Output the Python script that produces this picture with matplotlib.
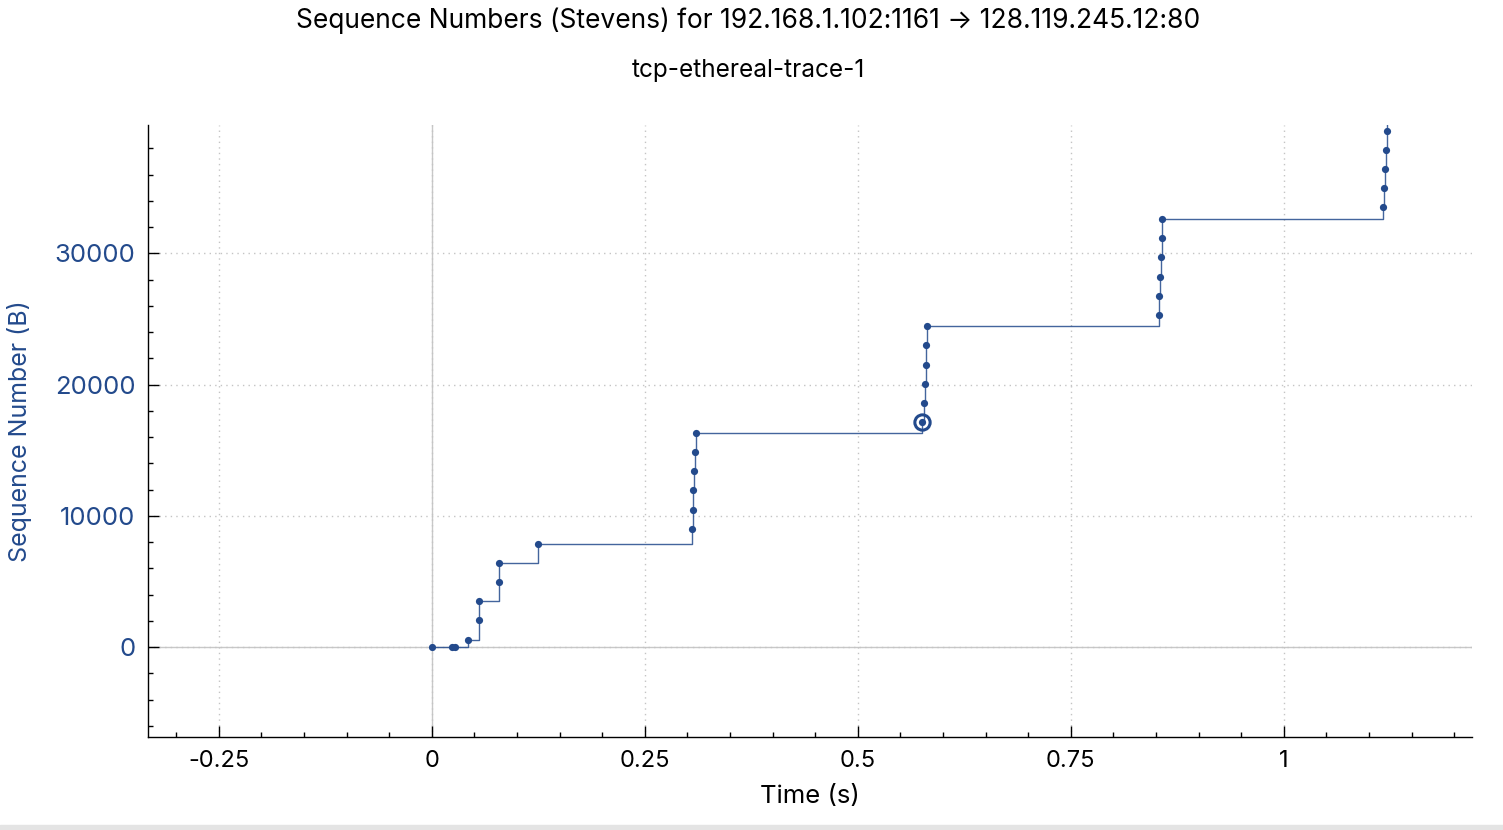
import matplotlib.pyplot as plt
from matplotlib.ticker import MultipleLocator, FormatStrFormatter
from matplotlib.patches import Rectangle

plt.rcParams['font.family'] = ['Inter', 'DejaVu Sans']

# segment send times (s) and relative sequence numbers (bytes)
times = [0, 0.0239, 0.0278, 0.0427, 0.0552, 0.0556, 0.0786, 0.0790, 0.1248,
         0.3055, 0.3063, 0.3071, 0.3083, 0.3095, 0.3103,
         0.5759, 0.5775, 0.5786, 0.5798, 0.5806, 0.5818,
         0.8533, 0.8541, 0.8548, 0.8556, 0.8568, 0.8576,
         1.1166, 1.1177, 1.1189, 1.1201, 1.1209, 1.1215]
seqs = [0, 1, 1, 566, 2026, 3486, 4946, 6406, 7866,
        9013, 10473, 11933, 13393, 14853, 16313,
        17150, 18610, 20070, 21530, 22990, 24450,
        25310, 26770, 28230, 29690, 31150, 32610,
        33520, 34980, 36440, 37900, 39360, 40820]
selected_t = 0.5759
selected_seq = 17150

blue = '#234a8c'

fig = plt.figure(figsize=(15.03, 8.30), dpi=100)
ax = fig.add_axes([0.0985, 0.112, 0.8809, 0.737])

ax.axhline(0, color='#c8c8c8', lw=1, zorder=1)
ax.axvline(0, color='#c8c8c8', lw=1, zorder=1)
ax.grid(True, which='major', color='#c4c4c4', ls=(0, (1, 3)), lw=1)

ax.plot(times, seqs, drawstyle='steps-post', color=blue, lw=1, alpha=0.85, zorder=3)
ax.plot(times, seqs, 'o', color=blue, ms=5.2, mec='none', zorder=4)
ax.plot([selected_t], [selected_seq], 'o', ms=11, mfc='none', mec=blue, mew=2.2, zorder=5)

ax.set_xlim(-0.333, 1.221)
ax.set_ylim(-6855, 39756)

ax.xaxis.set_major_locator(MultipleLocator(0.25))
ax.xaxis.set_minor_locator(MultipleLocator(0.05))
ax.xaxis.set_major_formatter(FormatStrFormatter('%g'))
ax.yaxis.set_major_locator(MultipleLocator(10000))
ax.yaxis.set_minor_locator(MultipleLocator(2000))

ax.tick_params(which='major', direction='in', length=8, width=1, labelsize=17, pad=9)
ax.tick_params(which='minor', direction='in', length=3.3, width=1)
ax.tick_params(axis='y', labelcolor=blue, labelsize=18.5, pad=9)

for s in ['top', 'right']:
    ax.spines[s].set_visible(False)
for s in ['left', 'bottom']:
    ax.spines[s].set_linewidth(1)

ax.set_xlabel('Time (s)', fontsize=18.5, labelpad=10)
ax.set_ylabel('Sequence Number (B)', fontsize=18, color=blue, labelpad=16)

fig.text(0.4977, 0.975, 'Sequence Numbers (Stevens) for 192.168.1.102:1161 \u2192 128.119.245.12:80',
         ha='center', va='center', fontsize=19)
fig.text(0.4977, 0.915, 'tcp-ethereal-trace-1', ha='center', va='center', fontsize=17.5)

fig.patches.append(Rectangle((0, 0), 1, 0.006, transform=fig.transFigure,
                             color='#e4e4e4', zorder=0))

fig.savefig('out.png', dpi=100)
